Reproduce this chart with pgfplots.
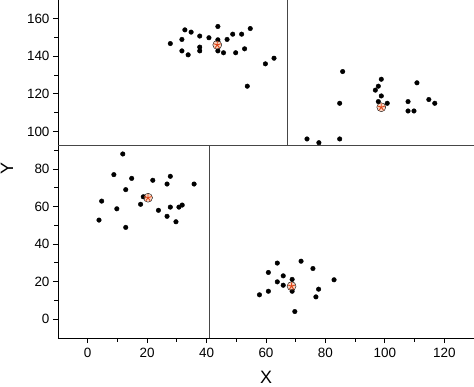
\documentclass[border=0pt]{standalone}
\usepackage{pgfplots}
\pgfplotsset{compat=1.18}
\usepackage{fontspec}
\setmainfont{Liberation Sans}
\definecolor{starc}{RGB}{222,70,25}
\definecolor{haloc}{RGB}{245,150,100}
\definecolor{divc}{RGB}{70,70,70}
\begin{document}
\begin{tikzpicture}
\begin{axis}[
  scale only axis, width=416bp, height=338bp,
  xmin=-10, xmax=130, ymin=-10, ymax=170,
  axis lines*=left,
  axis line style={line width=0.9pt, black},
  xtick={0,20,...,120}, ytick={0,20,...,160},
  minor tick num=1,
  tick align=outside,
  major tick length=5bp, minor tick length=3.5bp,
  tick style={line width=0.9pt, black},
  /pgf/number format/assume math mode=true,
  tick label style={font=\fontsize{13.5}{15}\selectfont},
  xticklabel style={yshift=-2bp},
  xlabel={X}, ylabel={Y},
  label style={font=\fontsize{18}{20}\selectfont},
  xlabel style={yshift=-6bp},
  ylabel style={yshift=7bp},
  clip=false,
]
\path (rel axis cs:0,0) coordinate (sw) (rel axis cs:1,1) coordinate (ne);
% divider lines
\addplot[divc, line width=0.9pt, no marks] coordinates {(-10,92.4) (130,92.4)};
\addplot[divc, line width=0.9pt, no marks] coordinates {(67.2,92.4) (67.2,170)};
\addplot[divc, line width=0.9pt, no marks] coordinates {(40.8,-10) (40.8,92.4)};
% points
\addplot[only marks, mark=*, mark size=2.3pt, black] coordinates {
(32.7,154.1) (34.8,152.9) (43.8,155.9) (54.7,154.8) (27.8,146.8) (31.7,149)
(37.7,150.8) (40.8,149.9) (43.8,148.8) (46.9,149) (48.8,151.8) (51.8,151.8)
(31.7,142.9) (33.8,140.8) (37.7,144.9) (37.7,142.9) (43.8,142.9) (45.7,141.9)
(49.8,141.9) (52.8,144) (59.8,136) (62.7,139) (53.7,124.1)
(85.8,131.9) (84.8,115) (73.8,96) (77.8,94) (84.8,96) (98.8,127.8) (97.8,124.1)
(96.8,122) (98.8,118.9) (97.8,115.9) (100.8,115) (107.8,115.9) (107.8,110.9)
(109.8,110.9) (110.8,125.9) (114.8,117) (116.8,115)
(11.8,88) (8.8,77) (14.8,75) (21.9,74) (27.8,76.1) (26.7,72) (35.8,72) (12.8,69)
(4.7,62.9) (9.8,58.8) (18.7,65.2) (17.8,61.2) (23.8,58) (27.8,59.7) (30.7,59.7)
(31.8,60.8) (26.7,54.8) (29.7,51.9) (3.8,52.8) (12.8,48.9)
(63.8,29.9) (71.8,30.9) (75.8,27) (60.8,24.9) (65.8,23.1) (63.8,19.9) (65.8,18.1)
(68.8,21.2) (68.8,14.9) (60.8,14.9) (57.8,13) (77.7,16) (76.8,11.9) (82.9,21) (69.7,4.1)
};
% centres
\addplot[only marks, mark=*, mark size=4.5pt, draw=none, fill=haloc, fill opacity=0.4] coordinates {
(43.6,146.1) (98.8,112.9) (20.3,64.7) (68.6,17.6)};
\addplot[only marks, mark=star, mark size=3.8pt, starc, line width=0.9pt] coordinates {
(43.6,146.1) (98.8,112.9) (20.3,64.7) (68.6,17.6)};
\end{axis}
\pgfresetboundingbox
\useasboundingbox ([xshift=-58bp,yshift=-49bp]sw) rectangle (ne);
\end{tikzpicture}
\end{document}
